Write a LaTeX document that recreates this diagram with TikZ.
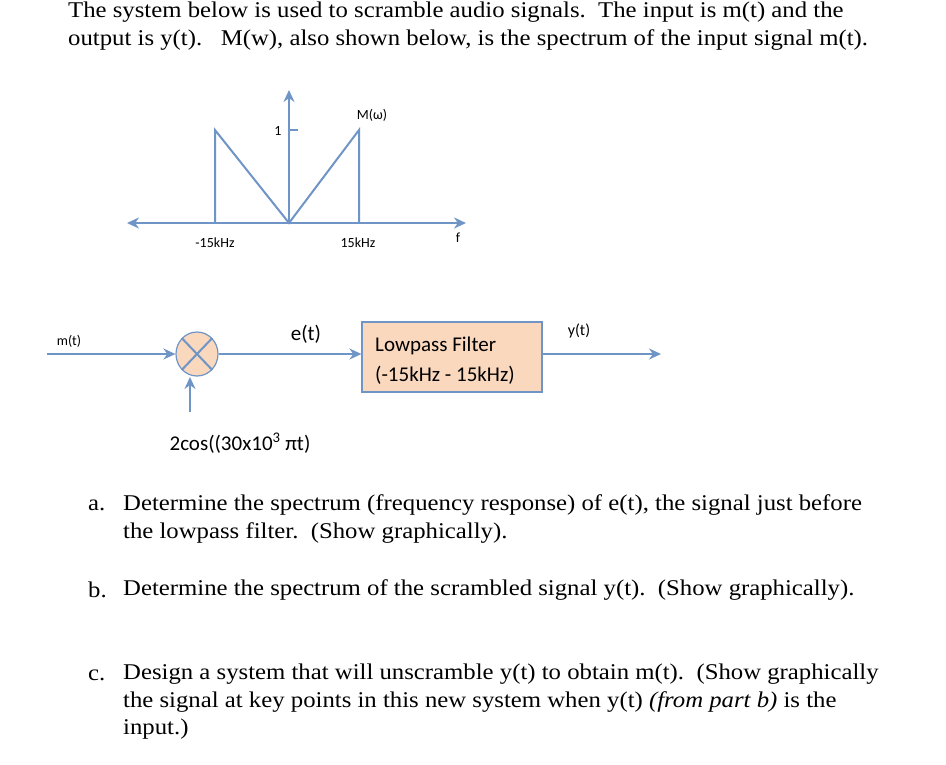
\documentclass[tikz,border=0pt]{standalone}
\usetikzlibrary{arrows.meta,shapes.geometric}
\usepackage{fontspec}
\setmainfont{Liberation Serif}[FakeStretch=1.1]
\newfontfamily\lab{Carlito}
\definecolor{bl}{RGB}{111,148,198}
\definecolor{pe}{RGB}{250,216,190}
\begin{document}
\begin{tikzpicture}[x=1pt,y=-1pt,
  ln/.style={draw=bl, line width=2pt},
  arr/.style={ln,-{Stealth[length=12pt,width=11pt]}},
  lbl/.style={font=\lab\fontsize{14}{16}\selectfont, inner sep=0pt},
  big/.style={font=\lab\fontsize{21}{25}\selectfont, inner sep=0pt},
  txt/.style={font=\fontsize{22.5}{27.5}\selectfont, inner sep=0pt, anchor=west, align=left}]
\useasboundingbox (0,0) rectangle (946,764);
% header text
\node[txt] (hdr) at (68,26) {The system below is used to scramble audio signals.\ \ The input is m(t) and the\\output is y(t).\ \ \ M(w), also shown below, is the spectrum of the input signal m(t).};
% spectrum
\coordinate (xl) at (127,223); \coordinate (xr) at (466,223);
\coordinate (o) at (289,223); \coordinate (yt) at (289,90);
\draw[ln,{Stealth[length=12pt,width=11pt]}-{Stealth[length=12pt,width=11pt]}] (xl) -- (xr);
\draw[arr] (o) -- (yt);
\draw[ln] (289,130) -- (298,130);
\draw[ln] (215,223) -- (215,130) -- (o) -- (359,130) -- (359,223);
\node[lbl] (one) at (278,131) {1};
\node[lbl] (mw) at (372,115) {M(ω)};
\node[lbl] (m15) at (215,243) {-15kHz};
\node[lbl] (p15) at (358,243) {15kHz};
\node[lbl] (f) at (458,238) {f};
% block diagram
\node[lbl] (mt) at (69,341) {m(t)};
\coordinate (in) at (47,354);
\node[draw=bl, line width=1.2pt, fill=pe, ellipse, minimum width=42pt, minimum height=44pt, inner sep=0pt] (mix) at (197,354) {};
\draw[ln] (mix.north west) -- (mix.south east);
\draw[ln] (mix.north east) -- (mix.south west);
\draw[arr] (in) -- (mix.west);
\coordinate (cs) at (190,412);
\draw[arr] (cs) -- (190,377);
\node[big] (cos) at (240,443) {2cos((30x10\textsuperscript{3} πt)};
\node[draw=bl, line width=1.2pt, fill=pe, minimum width=180pt, minimum height=70pt, inner sep=0pt] (lpf) at (452,357) {};
\node[big, anchor=west] (l1) at (375,346) {Lowpass Filter};
\node[big, anchor=west] (l2) at (375,375) {(-15kHz - 15kHz)};
\draw[arr] (mix.east) -- (lpf.west |- mix.east);
\node[big] (et) at (306,334) {e(t)};
\coordinate (out) at (661,354);
\draw[arr] (lpf.east |- out) -- (out);
\node[lbl, font=\lab\fontsize{16}{18}\selectfont] (yt2) at (579,331) {y(t)};
% questions
\node[txt] (a) at (88,505) {a.};
\node[txt] (at) at (123,519) {Determine the spectrum (frequency response) of e(t), the signal just before\\the lowpass filter.\ \ (Show graphically).};
\node[txt] (b) at (88,590) {b.};
\node[txt] (bt) at (123,590) {Determine the spectrum of the scrambled signal y(t).\ \ (Show graphically).};
\node[txt] (c) at (88,675) {c.};
\node[txt] (ct) at (123,702) {Design a system that will unscramble y(t) to obtain m(t).\ \ (Show graphically\\the signal at key points in this new system when y(t) \textit{(from part b)} is the\\input.)};
\end{tikzpicture}
\end{document}
